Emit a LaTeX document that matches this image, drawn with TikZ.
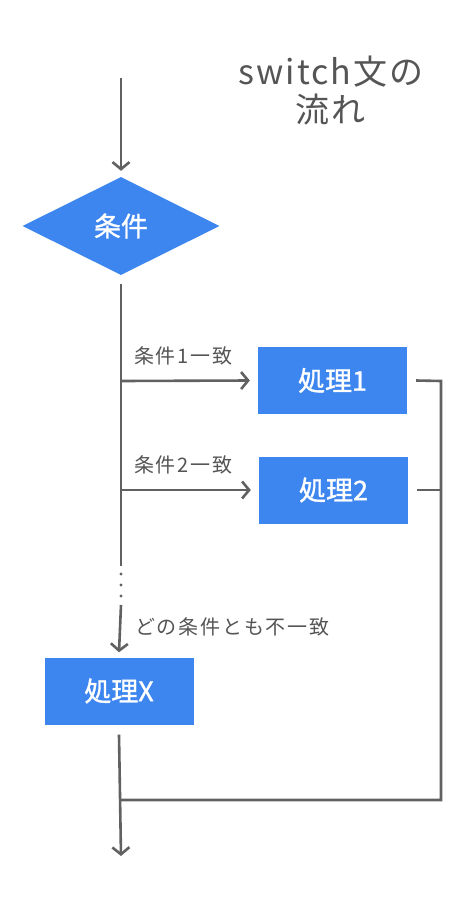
\documentclass[tikz,border=0pt]{standalone}
\usepackage{fontspec}
\setmainfont{Noto Sans CJK JP}
\newfontfamily\medfont[FakeBold=1.2]{Noto Sans CJK JP}
\newfontfamily\lblfont[LetterSpace=6]{Noto Sans CJK JP}
\newfontfamily\lblwfont[LetterSpace=9]{Noto Sans CJK JP}
\usetikzlibrary{shapes.geometric,arrows.meta}
\definecolor{boxblue}{HTML}{3D86F0}
\definecolor{linegray}{HTML}{616161}
\definecolor{txtgray}{HTML}{555555}
\tikzset{
  flow/.style={draw=linegray,line width=2.6pt},
  arr/.style={flow,-{Straight Barb[length=7pt,width=17pt,line width=2.6pt]}},
  procbox/.style={rectangle,fill=boxblue,minimum width=149pt,minimum height=67pt,inner sep=0pt,text=white,font=\medfont\fontsize{27}{32}\selectfont},
  cond/.style={diamond,fill=boxblue,aspect=2,minimum width=197pt,minimum height=98pt,inner sep=0pt,text=white,font=\medfont\fontsize{27}{32}\selectfont},
  lbl/.style={text=txtgray,font=\lblwfont\fontsize{20}{24}\selectfont,inner sep=0pt},
  ttl/.style={text=txtgray,font=\lblfont\fontsize{34}{40}\selectfont,inner sep=0pt}
}
\begin{document}
\begin{tikzpicture}[x=1pt,y=-1pt]
\useasboundingbox (0,0) rectangle (474,902);
\fill[white] (0,0) rectangle (474,902);
% title
\node[ttl] (t1) at (331,72) {switch文の};
\node[ttl] (t2) at (331,110) {流れ};
% nodes
\coordinate (top) at (121,78);
\node[cond] (c) at (121,226) {条件};
\node[procbox] (p1) at (332.5,380.5) {処理1};
\node[procbox] (p2) at (333.5,490) {処理2};
\node[procbox] (px) at (119,691) {処理X};
\coordinate (b1) at (121,381);
\coordinate (b2) at (121,490);
\coordinate (dotsTop) at (121,566);
\coordinate (dotsBot) at (121,605);
\coordinate (r1) at (441,381);
\coordinate (r2) at (441,490);
\coordinate (rb) at (441,800);
\coordinate (mb) at (121,800);
\coordinate (endp) at (121,856);
% connectors
\draw[arr] (top) -- ([yshift=6pt]c.north);
\draw[flow] ([yshift=-9pt]c.south) -- (dotsTop);
\draw[arr] (b1) -- ([xshift=-8pt]p1.west);
\draw[arr] (b2) -- ([xshift=-8pt]p2.west);
\fill[linegray] (121,574) circle (1.6pt) (121,585) circle (1.6pt) (121,596) circle (1.6pt);
\draw[arr] (dotsBot) -- ([yshift=5pt]px.north);
\draw[flow] ([xshift=9pt]p1.east) -- (r1) -- (rb) -- (mb);
\draw[flow] ([xshift=9pt]p2.east) -- (r2);
\draw[arr] ([yshift=-10pt]px.south) -- (endp);
% labels
\node[lbl,anchor=west] (l1) at (134,356) {条件1一致};
\node[lbl,anchor=west] (l2) at (134,465) {条件2一致};
\node[lbl,anchor=west] (l3) at (135,627) {どの条件とも不一致};
\end{tikzpicture}
\end{document}
